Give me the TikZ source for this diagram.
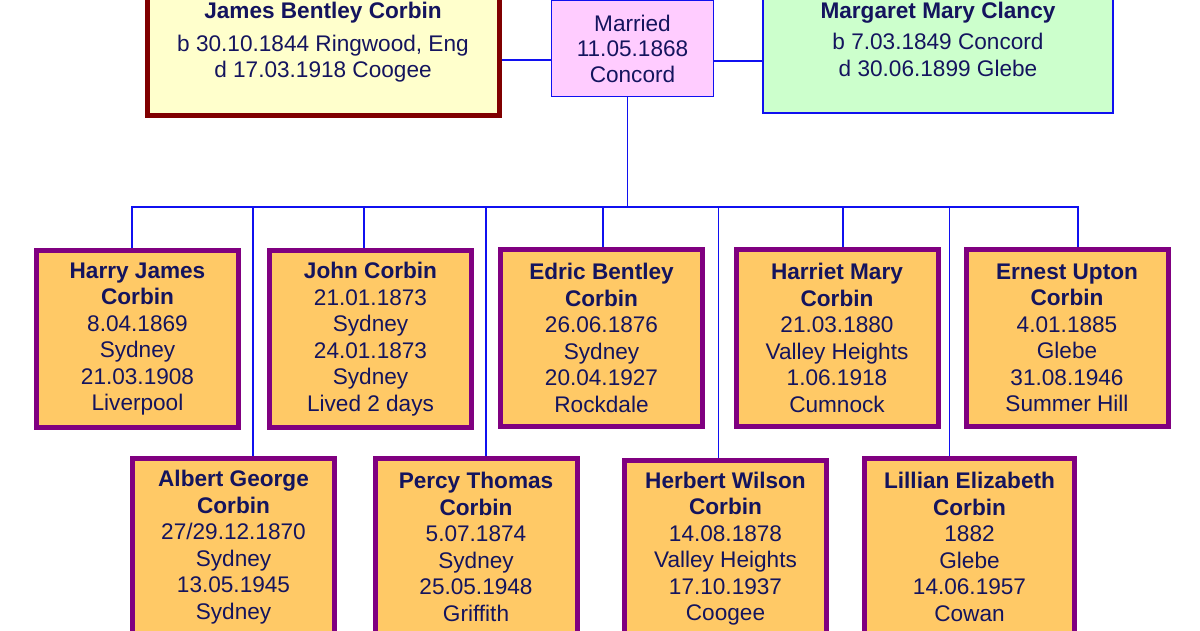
\documentclass[tikz,border=0pt]{standalone}
\usepackage{fontspec}
\setmainfont{Liberation Sans}
\usetikzlibrary{positioning}
\definecolor{ink}{HTML}{14145E}
\definecolor{linkblue}{HTML}{1010F0}
\definecolor{kidpurple}{HTML}{800080}
\definecolor{kidfill}{HTML}{FFC966}
\definecolor{dadred}{HTML}{800000}
\tikzset{link/.style={draw=linkblue, line width=1.5pt},
txt/.style={align=center, inner sep=0pt, text=ink, font=\fontsize{22.6}{26.5}\selectfont},
parent/.style={txt, line width=1.5pt, draw=linkblue},
kid/.style={txt, draw=kidpurple, fill=kidfill, line width=5pt, minimum width=202pt, minimum height=177pt}}
\begin{document}
\begin{tikzpicture}[x=1pt, y=-1pt]
\useasboundingbox (0,0) rectangle (1200,630);
% Parents
\node[parent, draw=dadred, line width=5pt, fill={rgb,255:red,255;green,255;blue,204}, minimum width=352pt, minimum height=146pt] (james) at (323,42)
  {\textbf{James Bentley Corbin}\\[6.5pt] b 30.10.1844 Ringwood, Eng\\ d 17.03.1918 Coogee};
\node[parent, fill={rgb,255:red,255;green,204;blue,255}, minimum width=162pt, minimum height=96pt, font=\fontsize{22.6}{25.5}\selectfont] (married) at (632.5,48.5)
  {Married\\ 11.05.1868\\ Concord};
\node[parent, fill={rgb,255:red,204;green,255;blue,204}, minimum width=350pt, minimum height=148pt] (margaret) at (938,39)
  {\textbf{Margaret Mary Clancy}\\[5pt] b 7.03.1849 Concord\\ d 30.06.1899 Glebe};

% Children, upper row
\node[kid] (harry) at (137.5,339) {\textbf{Harry James}\\ \textbf{Corbin}\\ 8.04.1869\\ Sydney\\ 21.03.1908\\ Liverpool};
\node[kid] (john) at (370.5,339) {\textbf{John Corbin}\\ 21.01.1873\\ Sydney\\ 24.01.1873\\ Sydney\\ Lived 2 days};
\node[kid] (edric) at (601.5,338) {\textbf{Edric Bentley}\\ \textbf{Corbin}\\ 26.06.1876\\ Sydney\\ 20.04.1927\\ Rockdale};
\node[kid] (harriet) at (837,338) {\textbf{Harriet Mary}\\ \textbf{Corbin}\\ 21.03.1880\\ Valley Heights\\ 1.06.1918\\ Cumnock};
\node[kid] (ernest) at (1067,338) {\textbf{Ernest Upton}\\ \textbf{Corbin}\\ 4.01.1885\\ Glebe\\ 31.08.1946\\ Summer Hill};

% Children, lower row
\node[kid] (albert) at (233.5,547) {\textbf{Albert George}\\ \textbf{Corbin}\\ 27/29.12.1870\\ Sydney\\ 13.05.1945\\ Sydney};
\node[kid] (percy) at (476,547) {\textbf{Percy Thomas}\\ \textbf{Corbin}\\ 5.07.1874\\ Sydney\\ 25.05.1948\\ Griffith};
\node[kid] (herbert) at (725.5,548.5) {\textbf{Herbert Wilson}\\ \textbf{Corbin}\\ 14.08.1878\\ Valley Heights\\ 17.10.1937\\ Coogee};
\node[kid, minimum width=210pt] (lillian) at (969.5,547) {\textbf{Lillian Elizabeth}\\ \textbf{Corbin}\\ 1882\\ Glebe\\ 14.06.1957\\ Cowan};

% Links
\draw[link] ([yshift=-18pt]james.east) -- ([yshift=-18pt]james.east -| married.west);
\draw[link] ([yshift=-12.5pt]married.east) -- ([yshift=-12.5pt]married.east -| margaret.west);
\coordinate (bar) at (627.5,207);
\draw[link] (married.south -| bar) -- (bar);
\foreach \kid/\dx in {harry/-5.5, john/-6.5, edric/1.5, harriet/6, ernest/11, albert/19.5, percy/10, herbert/-7, lillian/-20}
  \draw[link] (bar) -| ([xshift=\dx pt]\kid.north);
\end{tikzpicture}
\end{document}
